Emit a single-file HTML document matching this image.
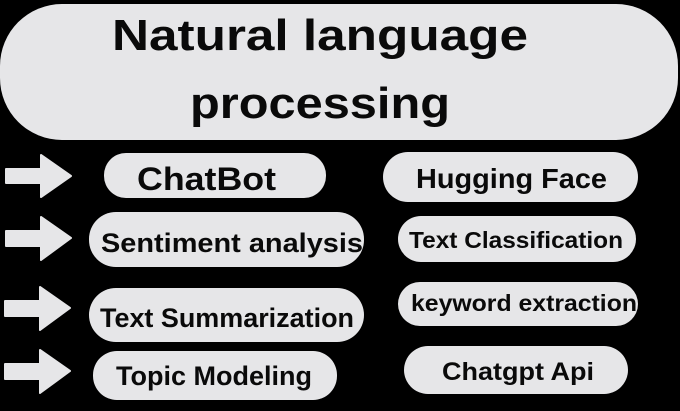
<!DOCTYPE html>
<html><head><style>
body{margin:0;background:#000;width:680px;height:411px;overflow:hidden}
svg{display:block}
text{font-family:"Liberation Sans",sans-serif;font-weight:bold;fill:#0a0a0a}
</style></head><body>
<svg width="680" height="411" viewBox="0 0 680 411">
<rect width="680" height="411" fill="#000"/>
<g fill="#e6e6e8">
<rect x="0" y="4" width="678" height="136" rx="62"/>
<rect x="104" y="153" width="222" height="45" rx="22"/>
<rect x="89" y="212" width="275" height="55" rx="27"/>
<rect x="89" y="288" width="275" height="54" rx="27"/>
<rect x="93" y="351" width="244" height="49" rx="24"/>
<rect x="383" y="152" width="255" height="50" rx="25"/>
<rect x="398" y="216" width="238" height="46" rx="23"/>
<rect x="398" y="282" width="240" height="44" rx="22"/>
<rect x="404" y="346" width="224" height="48" rx="24"/>
<path d="M6 169H41V155L71 176L41 197V183H6Z" stroke="#e6e6e8" stroke-width="2" stroke-linejoin="round"/>
<path d="M6 231H41V217L71 238L41 260V246H6Z" stroke="#e6e6e8" stroke-width="2" stroke-linejoin="round"/>
<path d="M5 301H40V287L70 308L40 330V316H5Z" stroke="#e6e6e8" stroke-width="2" stroke-linejoin="round"/>
<path d="M5 364H40V350L70 371L40 393V379H5Z" stroke="#e6e6e8" stroke-width="2" stroke-linejoin="round"/>
</g>
<text x="112" y="50" font-size="44" textLength="416" lengthAdjust="spacingAndGlyphs">Natural  language</text>
<text x="190" y="118" font-size="44" textLength="260" lengthAdjust="spacingAndGlyphs">processing</text>
<text x="137" y="190" font-size="32" textLength="139" lengthAdjust="spacingAndGlyphs">ChatBot</text>
<text x="101" y="252" font-size="27" textLength="262" lengthAdjust="spacingAndGlyphs">Sentiment analysis</text>
<text x="100" y="327" font-size="27" textLength="254" lengthAdjust="spacingAndGlyphs">Text Summarization</text>
<text x="116" y="385" font-size="27" textLength="196" lengthAdjust="spacingAndGlyphs">Topic Modeling</text>
<text x="416" y="188" font-size="28" textLength="191" lengthAdjust="spacingAndGlyphs">Hugging Face</text>
<text x="409" y="248" font-size="23" textLength="214" lengthAdjust="spacingAndGlyphs">Text Classification</text>
<text x="411" y="311" font-size="23" textLength="226" lengthAdjust="spacingAndGlyphs">keyword extraction</text>
<text x="442" y="380" font-size="25" textLength="152" lengthAdjust="spacingAndGlyphs">Chatgpt Api</text>
</svg>
</body></html>
